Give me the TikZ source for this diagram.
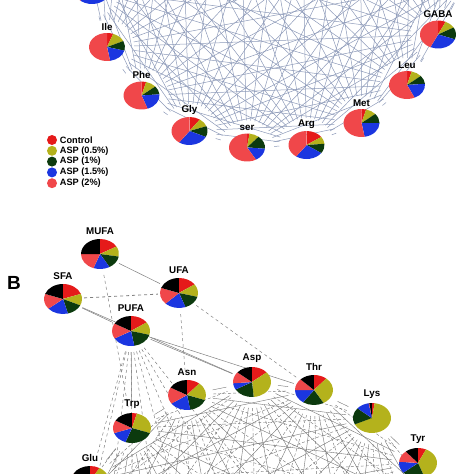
\documentclass[tikz,border=0pt]{standalone}
\usepackage{fontspec}
\setmainfont{Liberation Sans}
\usetikzlibrary{positioning,backgrounds}

\definecolor{ctrlred}{HTML}{E51A1A}
\definecolor{aspyel}{HTML}{B4B21C}
\definecolor{aspgrn}{HTML}{0C3A0E}
\definecolor{aspblu}{HTML}{1B36E0}
\definecolor{asplred}{HTML}{F0474A}
\definecolor{meshblue}{HTML}{8C99B8}

\newcommand{\labfont}{\fontsize{9.8}{11}\selectfont\bfseries}
\newcommand{\legfont}{\fontsize{9.2}{11}\selectfont\bfseries}

% pie: centre node, x radius, y radius, colour/from/to (degrees clockwise from top)
\newcommand{\piechart}[4]{%
  \foreach \col/\from/\to in {#4}
    \fill[\col] (#1) -- ++(\from-90:#2 and #3)
      arc[start angle=\from-90, end angle=\to-90, x radius=#2, y radius=#3] -- cycle;
}
\newcommand{\toppie}[5]{\piechart{#1}{18}{14}{ctrlred/0/#2, aspyel/#2/#3, aspgrn/#3/#4, aspblu/#4/#5, asplred/#5/360}}
\newcommand{\fapie}[6]{\piechart{#1}{19}{15}{ctrlred/0/#2, aspyel/#2/#3, aspgrn/#3/#4, aspblu/#4/#5, asplred/#5/#6, black/#6/360}}

\def\toplist{tpart,ile,phe,gly,ser,arg,met,leu,gaba,t1,t2,t3,t4,t5,t6,t7,t8,t9,t10,t11}
\def\botlist{glu,trp,asn,asp,thr,lys,tyr,b1,b2,b3,b4,b5,b6,b7,b8,b9,b10,b11,b12,b13}

\begin{document}
\begin{tikzpicture}[x=1pt, y=-1pt,
    pienode/.style={inner sep=0pt, minimum size=0pt},
    toplab/.style={label={[font=\labfont, inner sep=1pt, label distance=15.5pt]above:#1}},
    falab/.style={label={[font=\labfont, inner sep=1pt, label distance=18.5pt]above:#1}},
    topmesh/.style={meshblue, line width=0.5pt, shorten >=27pt, shorten <=27pt},
    botmesh/.style={black!55, line width=0.4pt, shorten >=26pt, shorten <=26pt},
    faline/.style={black!50, line width=0.5pt, shorten >=21pt, shorten <=21pt},
    legdot/.style={circle, inner sep=0pt, minimum size=10pt},
    legtext/.style={font=\legfont, inner sep=1pt}]
    \useasboundingbox (0,0) rectangle (474,474);
    \clip (0,0) rectangle (474,474);

    % Top network (amino acids)
    \node[pienode] (tpart) at (92,-10) {};
    \node[pienode, toplab=Ile] (ile) at (107,47) {};
    \node[pienode, toplab=Phe] (phe) at (141.5,95.5) {};
    \node[pienode, toplab=Gly] (gly) at (189.5,131) {};
    \node[pienode, toplab=ser] (ser) at (247,147.5) {};
    \node[pienode, toplab=Arg] (arg) at (306.5,145) {};
    \node[pienode, toplab=Met] (met) at (361.5,123) {};
    \node[pienode, toplab=Leu] (leu) at (407,85) {};
    \node[pienode, toplab=GABA] (gaba) at (438,34.5) {};
    \foreach \k in {1,...,11} {
        \pgfmathsetmacro\ang{28.6-18.55*\k}
        \coordinate (t\k) at ([shift={(275,-55)}]\ang:195);
    }

    % Legend
    \foreach \c/\t [count=\i] in {ctrlred/Control, aspyel/ASP (0.5\%), aspgrn/ASP (1\%), aspblu/ASP (1.5\%), asplred/ASP (2\%)} {
        \node[legdot, fill=\c] (lg\i) at (52,{140+10.8*(\i-1)}) {};
        \node[legtext, right=1.5pt of lg\i] (lt\i) {\t};
    }

    % Panel B
    \node[font=\fontsize{19}{20}\selectfont\bfseries] (panelb) at (14,283) {B};
    \node[pienode, falab=MUFA] (mufa) at (100,254) {};
    \node[pienode, falab=SFA] (sfa) at (63,299) {};
    \node[pienode, falab=UFA] (ufa) at (179,293) {};
    \node[pienode, falab=PUFA] (pufa) at (131,331) {};
    \node[pienode, falab=Asn] (asn) at (187,395) {};
    \node[pienode, falab=Trp] (trp) at (132,428) {};
    \node[pienode, falab=Glu] (glu) at (90,481) {};
    \node[pienode, falab=Asp] (asp) at (252,382) {};
    \node[pienode, falab=Thr] (thr) at (314,390) {};
    \node[pienode, falab=Lys] (lys) at (372,418) {};
    \node[pienode, falab=Tyr] (tyr) at (418,463) {};
    \foreach \k in {1,...,13} {
        \pgfmathsetmacro\ang{-39+18.2*\k}
        \coordinate (b\k) at ([shift={(255,595)}]\ang:212);
    }

    \begin{scope}[on background layer]
        % top mesh
        \foreach \a [count=\i] in \toplist
            \foreach \b [count=\j] in \toplist {
                \ifnum\j>\i \draw[topmesh] (\a) -- (\b); \fi
            }
        % bottom mesh
        \foreach \a [count=\i] in \botlist
            \foreach \b [count=\j] in \botlist {
                \ifnum\j>\i
                    \ifodd\numexpr\i+\j\relax \draw[botmesh] (\a) -- (\b);
                    \else \draw[botmesh, densely dashed] (\a) -- (\b); \fi
                \fi
            }
        % fatty acid links
        \draw[faline, dashed, thick] (sfa) -- (ufa);
        \draw[faline, dashed] (mufa) -- (trp);
        \draw[faline] (mufa) -- (ufa);
        \draw[faline] (sfa) -- (pufa);
        \draw[faline] (sfa) -- (asp);
        \draw[faline, dashed] (ufa) -- (asn);
        \draw[faline, dashed] (ufa) -- (thr);
        \draw[faline] (pufa) -- (thr);
        \draw[faline] (pufa) -- (asp);
        \draw[faline, dashed] (pufa) -- (glu);
        \draw[faline] (pufa) -- (trp);
        \foreach \k in {4,...,11}
            \draw[faline, dashed] (pufa) -- (b\k);
    \end{scope}

    % Pies
    \toppie{tpart}{20}{60}{100}{220}
    \toppie{ile}{20}{65}{105}{170}
    \toppie{phe}{15}{50}{85}{160}
    \toppie{gly}{35}{70}{115}{215}
    \toppie{ser}{8}{40}{95}{150}
    \toppie{arg}{55}{85}{125}{215}
    \toppie{met}{15}{50}{90}{170}
    \toppie{leu}{15}{50}{85}{155}
    \toppie{gaba}{25}{60}{110}{205}
    \fapie{mufa}{60}{100}{150}{200}{270}
    \fapie{sfa}{70}{115}{165}{230}{290}
    \fapie{ufa}{55}{105}{160}{225}{290}
    \fapie{pufa}{55}{105}{170}{240}{300}
    \fapie{asn}{40}{110}{170}{235}{300}
    \fapie{trp}{15}{110}{200}{250}{300}
    \fapie{glu}{30}{110}{180}{240}{300}
    \fapie{asp}{50}{175}{240}{265}{310}
    \fapie{thr}{40}{150}{215}{270}{315}
    \fapie{lys}{8}{245}{310}{350}{352}
    \fapie{tyr}{25}{160}{230}{275}{320}
\end{tikzpicture}
\end{document}
